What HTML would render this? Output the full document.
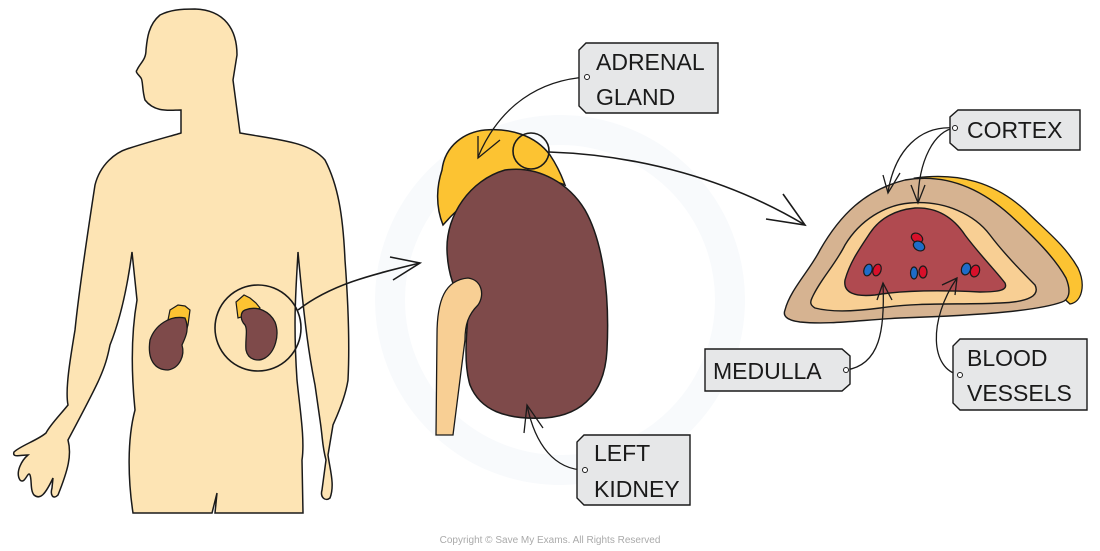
<!DOCTYPE html>
<html><head><style>
html,body{margin:0;padding:0;background:#fff;width:1100px;height:551px;overflow:hidden}
svg{display:block}
text{font-family:"Liberation Sans",sans-serif;fill:#1a1a1a}
</style></head><body>
<svg width="1100" height="551" viewBox="0 0 1100 551" xmlns="http://www.w3.org/2000/svg">
<g fill="none" stroke="#f8fafc" stroke-width="30">
<circle cx="560" cy="300" r="170"/>
</g>
<!-- body -->
<path d="M195,9 C225,10 237,30 237,55 L233,80 L240,133 C280,140 310,142 325,160 C338,185 343,215 345,260 C348,300 350,340 348,380 C345,400 335,420 333,425 L328,455 C330,470 335,485 330,498 C325,502 320,497 322,490 L326,460 C322,445 323,440 320,420 L315,385 C310,360 305,330 298,252 C296,290 293,320 297,380 C300,410 305,440 302,460 L303,513 L215,513 L217,493 L212,513 L133,513 C128,480 127,440 135,410 C132,380 130,340 137,300 L132,252 C127,290 120,320 110,345 C105,370 100,380 68,440 C72,455 68,470 58,495 C53,500 50,495 52,488 L53,478 C45,495 40,500 34,495 C30,490 32,480 30,475 C28,470 25,485 20,480 C15,472 22,460 28,455 C20,455 12,458 14,452 C20,446 38,440 46,433 C50,425 60,415 68,405 C65,390 70,360 75,330 C78,300 85,250 95,185 C100,165 115,152 130,148 C155,140 175,135 181,133 L181,110 C170,110 155,113 145,100 C142,90 143,80 141,78 C138,74 135,72 137,70 C140,63 146,60 146,50 C147,40 148,25 160,15 C170,10 180,9 195,9 Z" fill="#fde4b4" stroke="#1a1a1a" stroke-width="1.5"/>
<!-- small kidneys -->
<path d="M167,325 L170,310 L178,305 L185,306 L190,310 L188,325 L185,335 Z" fill="#fcc332" stroke="#1a1a1a" stroke-width="1.2"/>
<path d="M185,318 C170,315 155,325 150,340 C147,360 155,370 168,370 C180,368 185,355 182,345 C185,338 190,330 185,318 Z" fill="#7e4a4a" stroke="#1a1a1a" stroke-width="1.3"/>
<path d="M238,318 L236,302 L244,295 L250,298 L256,303 L260,308 L248,315 Z" fill="#fcc332" stroke="#1a1a1a" stroke-width="1.2"/>
<path d="M245,310 C240,312 240,320 245,325 C248,330 245,340 246,350 C248,360 258,362 265,358 C275,352 280,335 275,322 C270,312 258,305 245,310 Z" fill="#7e4a4a" stroke="#1a1a1a" stroke-width="1.3"/>
<circle cx="258" cy="328" r="43" fill="none" stroke="#1a1a1a" stroke-width="1.6"/>
<path d="M298,310 C330,285 370,275 420,263" fill="none" stroke="#1a1a1a" stroke-width="1.6"/>
<path d="M390,257 L420,263 L393,280" fill="none" stroke="#1a1a1a" stroke-width="1.6"/>
<!-- big kidney -->
<path d="M443,225 C435,205 437,185 442,170 C445,145 465,132 485,130 C510,128 535,135 550,155 C560,170 563,180 565,185 C540,175 490,170 443,225 Z" fill="#fcc332" stroke="#1a1a1a" stroke-width="1.5"/>
<path d="M468,315 C462,300 448,285 447,250 C446,215 470,180 505,170 C540,165 570,185 585,210 C602,240 610,290 607,350 C605,390 585,415 545,418 C505,420 480,410 470,385 C464,365 466,340 468,315 Z" fill="#7e4a4a" stroke="#1a1a1a" stroke-width="1.5"/>
<path d="M436,435 L437,335 C437,300 445,280 468,278 C482,280 485,295 478,305 C468,315 465,325 465,340 L453,435 Z" fill="#f8cf94" stroke="#1a1a1a" stroke-width="1.3"/>
<circle cx="531" cy="151" r="18" fill="none" stroke="#1a1a1a" stroke-width="1.6"/>
<path d="M549,152 C640,155 730,180 805,225" fill="none" stroke="#1a1a1a" stroke-width="1.6"/>
<path d="M783,194 L805,225 L766,219" fill="none" stroke="#1a1a1a" stroke-width="1.6"/>
<path d="M587,77 C540,80 500,105 478,157" fill="none" stroke="#1a1a1a" stroke-width="1.3"/>
<path d="M478,136 L478,158 L500,140" fill="none" stroke="#1a1a1a" stroke-width="1.3"/>
<path d="M585,470 C555,470 535,445 527,405" fill="none" stroke="#1a1a1a" stroke-width="1.3"/>
<path d="M524,433 L527,405 L543,428" fill="none" stroke="#1a1a1a" stroke-width="1.3"/>
<!-- cross section -->
<path d="M915,178 C960,172 995,183 1025,210 C1045,230 1065,245 1078,268 C1086,285 1082,302 1070,304 L1000,240 Z" fill="#fcc332" stroke="#1a1a1a" stroke-width="1.3"/>
<path d="M785,310 C790,290 810,270 820,250 C840,215 865,190 905,180 C945,173 980,188 1010,215 C1035,238 1055,258 1066,278 C1072,293 1068,300 1062,302 C1040,310 990,315 900,318 C860,320 830,325 800,322 C785,320 783,315 785,310 Z" fill="#d6b391" stroke="#1a1a1a" stroke-width="1.4"/>
<path d="M812,298 C820,280 835,265 845,245 C860,220 885,205 910,203 C945,200 975,215 990,235 C1005,255 1025,275 1035,285 C1040,295 1030,302 1000,303 C960,305 920,302 880,308 C850,312 830,312 815,308 C810,305 810,302 812,298 Z" fill="#f8cf94" stroke="#1a1a1a" stroke-width="1.4"/>
<path d="M845,280 C850,262 860,248 870,233 C880,218 895,210 915,208 C940,207 955,220 965,235 C980,255 995,270 1005,283 C1008,290 1000,292 980,292 C940,290 905,290 875,295 C855,297 843,293 845,280 Z" fill="#b04a50" stroke="#1a1a1a" stroke-width="1.4"/>
<g stroke="#1a1a1a" stroke-width="1.2">
<ellipse cx="917" cy="238" rx="6" ry="4.5" fill="#d8102a" transform="rotate(30 917 238)"/>
<ellipse cx="919" cy="246" rx="6" ry="4.5" fill="#1e6cc8" transform="rotate(30 919 246)"/>
<ellipse cx="868" cy="270" rx="4" ry="6" fill="#1e6cc8" transform="rotate(20 868 270)"/>
<ellipse cx="877" cy="270" rx="4" ry="6" fill="#d8102a" transform="rotate(20 877 270)"/>
<ellipse cx="914" cy="273" rx="3.5" ry="6" fill="#1e6cc8"/>
<ellipse cx="923" cy="272" rx="4" ry="6" fill="#d8102a"/>
<ellipse cx="966" cy="269" rx="4.5" ry="6" fill="#1e6cc8" transform="rotate(20 966 269)"/>
<ellipse cx="975" cy="271" rx="4.5" ry="6" fill="#d8102a" transform="rotate(20 975 271)"/>
</g>
<g fill="none" stroke="#1a1a1a" stroke-width="1.3">
<path d="M955,128 C920,125 895,150 888,192"/><path d="M883,175 L888,193 L900,173"/>
<path d="M955,128 C935,130 918,160 918,203"/><path d="M911,185 L918,203 L925,185"/>
<path d="M846,370 C880,365 885,330 883,283"/><path d="M877,300 L883,283 L892,300"/>
<path d="M960,375 C930,370 928,320 957,278"/><path d="M942,285 L957,278 L955,295"/>
</g>
<g fill="#e6e7e8" stroke="#1a1a1a" stroke-width="1.4">
<path d="M586,43 L718,43 L718,113 L586,113 L579,106 L579,50 Z"/>
<path d="M584,435 L690,435 L690,505 L584,505 L577,498 L577,442 Z"/>
<path d="M958,110 L1080,110 L1080,150 L958,150 L950,143 L950,117 Z"/>
<path d="M705,349 L842,349 L850,356 L850,384 L842,391 L705,391 Z"/>
<path d="M960,339 L1087,339 L1087,410 L960,410 L953,403 L953,346 Z"/>
</g>
<g fill="#fff" stroke="#1a1a1a" stroke-width="1"><circle cx="587" cy="77" r="2.5"/><circle cx="585" cy="470" r="2.5"/><circle cx="955" cy="128" r="2.5"/><circle cx="846" cy="370" r="2.5"/><circle cx="960" cy="375" r="2.5"/></g>
<g font-size="23">
<text x="596" y="70">ADRENAL</text><text x="596" y="105">GLAND</text>
<text x="594" y="461">LEFT</text><text x="594" y="497">KIDNEY</text>
<text x="967" y="138">CORTEX</text>
<text x="713" y="379">MEDULLA</text>
<text x="967" y="366">BLOOD</text><text x="967" y="401">VESSELS</text>
</g>
<text x="550" y="543" font-size="10" text-anchor="middle" style="fill:#aaa">Copyright © Save My Exams. All Rights Reserved</text>
</svg>
</body></html>
